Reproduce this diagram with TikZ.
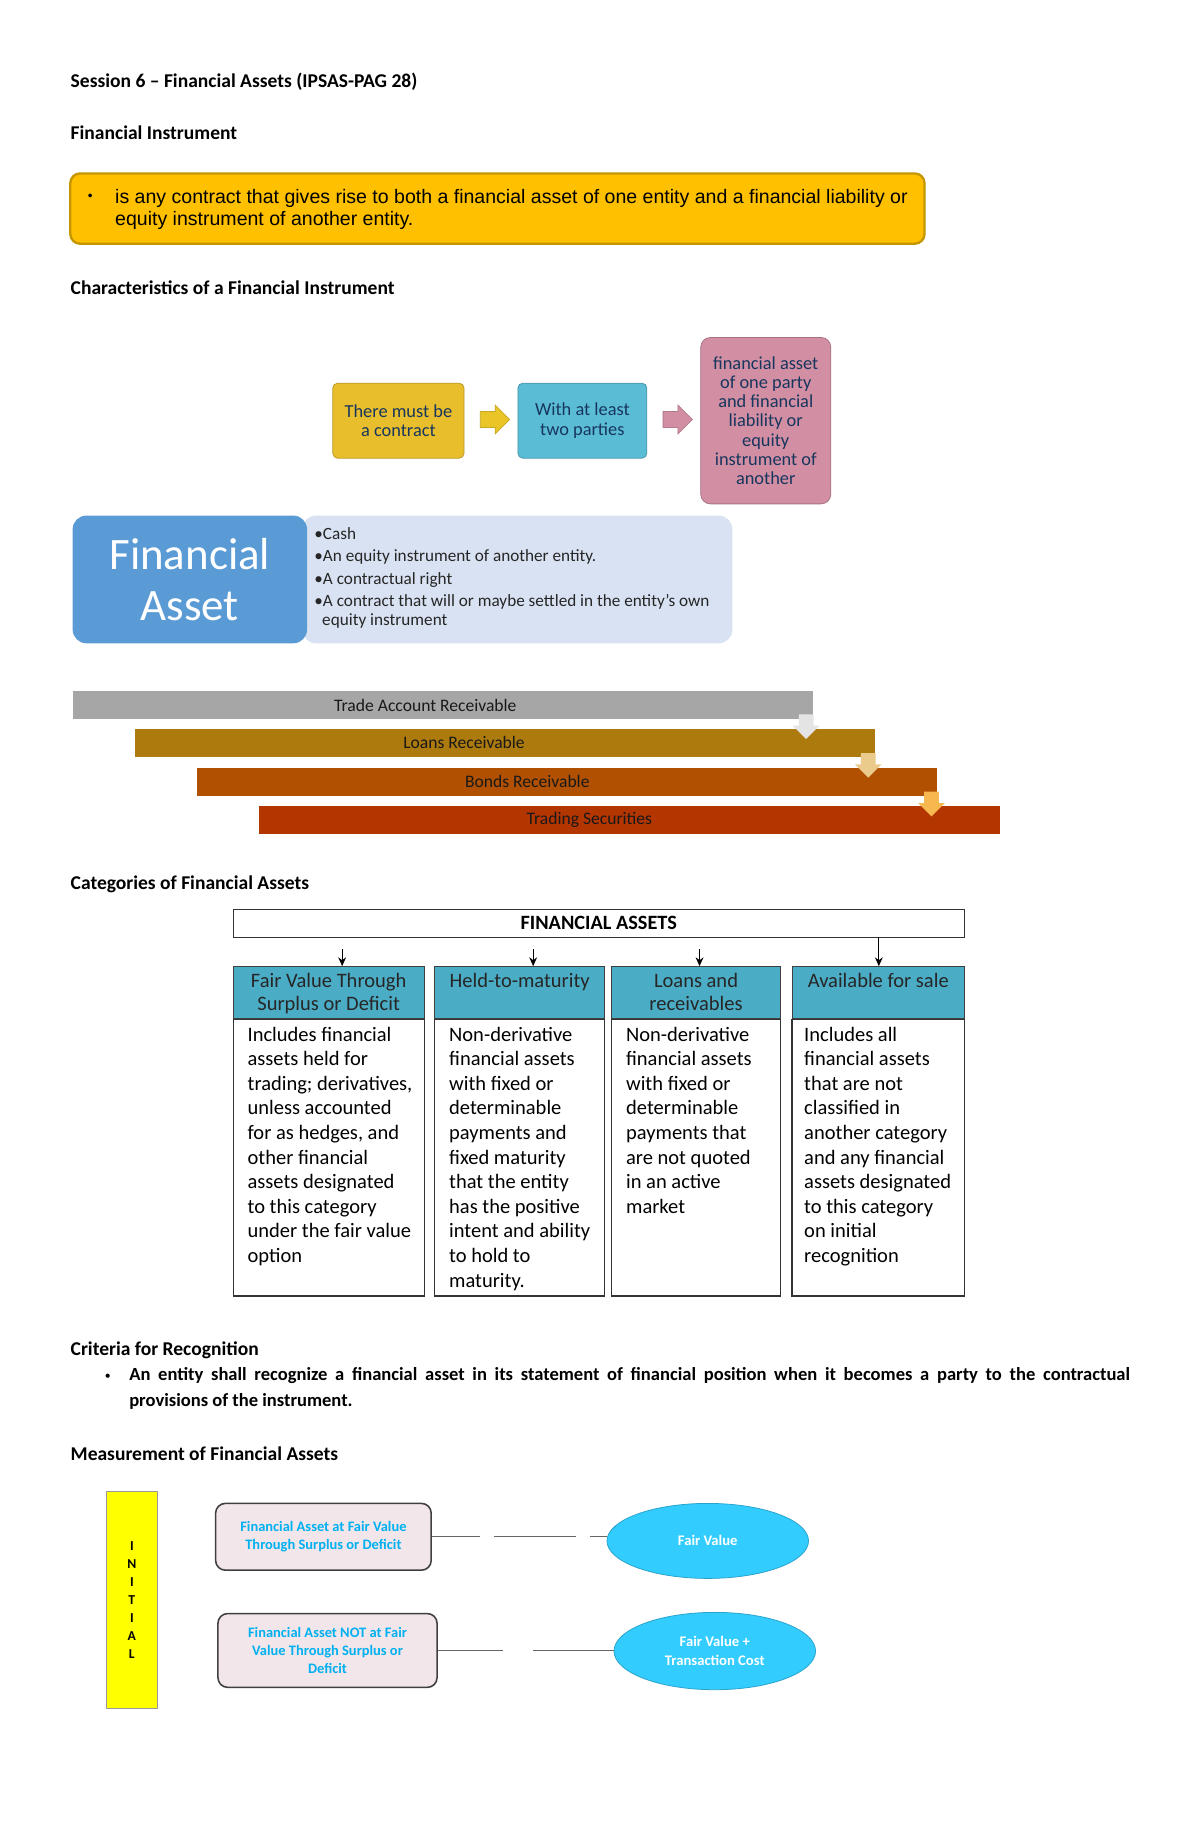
\documentclass[tikz,border=0pt]{standalone}
\usepackage{fontspec}
\setmainfont{Carlito}
\newfontfamily\arialfont{Liberation Sans}
\usetikzlibrary{positioning,shapes,shapes.arrows,arrows.meta}
\definecolor{goldbox}{RGB}{255,192,0}
\definecolor{goldline}{RGB}{196,150,0}
\definecolor{contractfill}{RGB}{232,190,44}
\definecolor{partyfill}{RGB}{91,188,214}
\definecolor{pinkfill}{RGB}{210,143,164}
\definecolor{navytext}{RGB}{23,54,93}
\definecolor{assetblue}{RGB}{91,155,213}
\definecolor{listfill}{RGB}{217,226,243}
\definecolor{bargray}{RGB}{166,166,166}
\definecolor{barloan}{RGB}{173,122,14}
\definecolor{barbond}{RGB}{176,80,0}
\definecolor{bartrade}{RGB}{179,53,0}
\definecolor{arrowgray}{RGB}{228,228,228}
\definecolor{arrowtan}{RGB}{235,203,139}
\definecolor{arroworange}{RGB}{247,184,80}
\definecolor{headteal}{RGB}{75,172,198}
\definecolor{initialyellow}{RGB}{255,255,0}
\definecolor{measurefill}{RGB}{242,230,235}
\definecolor{measuretext}{RGB}{0,176,240}
\definecolor{ovalblue}{RGB}{51,204,255}
\begin{document}
\begin{tikzpicture}[x=0.6pt, y=-0.6pt,
  heading/.style={anchor=base west, inner sep=0pt, font=\fontsize{10}{12}\selectfont\bfseries},
  flow node/.style={draw=#1!80!black, fill=#1, rounded corners=2.5pt, text=navytext, align=center, inner sep=1pt, font=\fontsize{9.4}{10.2}\selectfont},
  flow arrow/.style={single arrow, draw=#1!85!black, fill=#1, minimum height=15pt, inner xsep=0pt, inner ysep=3.9pt, single arrow head extend=3.3pt},
  bar node/.style={fill=#1, minimum width=379.2pt, minimum height=14.4pt, inner sep=0pt},
  bar label/.style={inner sep=0pt, text=black!90, font=\fontsize{9}{10}\selectfont},
  bar arrow/.style={single arrow, fill=#1, shape border rotate=270, minimum height=12.6pt, minimum width=12.6pt, inner sep=3.6pt, single arrow head extend=3pt},
  cat head/.style={draw=black!75, fill=headteal, minimum height=26.4pt, inner sep=0pt, line width=0.6pt},
  cat body/.style={draw=black!80, fill=white, minimum height=141.6pt, inner sep=0pt, line width=0.7pt},
  cat arrow/.style={-{Stealth[length=4.5pt,width=4pt]}, line width=0.6pt},
  head text/.style={anchor=north, align=center, inner sep=0pt, text=black!85, font=\fontsize{10.5}{11.4}\selectfont},
  body text/.style={anchor=north west, align=left, inner sep=0pt, font=\fontsize{10.5}{12.6}\selectfont},
  measure node/.style={draw=black!75, line width=0.8pt, fill=measurefill, rounded corners=5pt, align=center, text=measuretext, font=\fontsize{7.4}{9}\selectfont\bfseries},
  value node/.style={ellipse, draw=ovalblue!80!black, fill=ovalblue, minimum width=103.2pt, align=center, text=white, inner sep=0pt, font=\fontsize{7.5}{9.6}\selectfont\bfseries},
  link line/.style={draw=black!60, line width=0.6pt}]
\useasboundingbox (0,0) rectangle (1024,1566);
\fill[white] (0,0) rectangle (1024,1566);

% headings
\node[heading] (title) at (60,75) {Session 6 -- Financial Assets (IPSAS-PAG 28)};
\node[heading] (fihead) at (60,119) {Financial Instrument};
\node[heading] (charhead) at (60,251) {Characteristics of a Financial Instrument};
\node[heading] (cathead) at (60,759) {Categories of Financial Assets};
\node[heading] (crithead) at (60,1157) {Criteria for Recognition};
\node[heading] (meashead) at (60,1246) {Measurement of Financial Assets};

% definition
\node[draw=goldline, fill=goldbox, line width=1.2pt, rounded corners=5pt, minimum width=437.4pt, minimum height=36pt] (def) at (424.5,178) {};
\node[inner sep=0pt, font=\arialfont\fontsize{7}{8}\selectfont] (defdot) at (77,168) {\textbullet};
\node[anchor=north west, align=left, inner sep=0pt, font=\arialfont\fontsize{10}{11.4}\selectfont] (deftext) at (98,161) {is any contract that gives rise to both a financial asset of one entity and a financial liability or\\equity instrument of another entity.};

% characteristics
\node[flow node=contractfill, minimum width=67.2pt, minimum height=38.4pt] (contract) at (340,359) {There must be\\a contract};
\node[flow arrow=contractfill!90!yellow] (arr1) at (419,358) {};
\node[flow node=partyfill, minimum width=66pt, minimum height=38.4pt] (parties) at (497,359) {With at least\\two parties};
\node[flow arrow=pinkfill] (arr2) at (575,358) {};
\node[flow node=pinkfill, rounded corners=5pt, minimum width=66.6pt, minimum height=85.2pt, font=\fontsize{9.4}{9.8}\selectfont] (other) at (653.5,359) {financial asset\\of one party\\and financial\\liability or\\equity\\instrument of\\another};

% financial asset
\node[fill=listfill, rounded corners=7pt, minimum width=220.2pt, minimum height=65.4pt] (items) at (441.5,494.5) {};
\node[fill=assetblue, rounded corners=7pt, minimum width=120pt, minimum height=65.4pt, text=white, align=center, font=\fontsize{23}{26.4}\selectfont] (fa) at (162,494.5) {Financial\\Asset};
\node[anchor=north west, align=left, inner sep=0pt, text=black!85, font=\fontsize{8.8}{9.6}\selectfont] (itemtext) at (268,450) {\textbullet Cash\\[1.8pt]
\textbullet An equity instrument of another entity.\\[1.8pt]
\textbullet A contractual right\\[1.8pt]
\textbullet A contract that will or maybe settled in the entity's own\\
\hspace*{4pt}equity instrument};

% receivables
\node[bar node=bargray] (trade) at (378,602) {};
\node[bar node=barloan] (loans) at (431,634) {};
\node[bar node=barbond] (bonds) at (484,667) {};
\node[bar node=bartrade] (trading) at (537,700) {};
\node[bar label] at (363,602) {Trade Account Receivable};
\node[bar label] at (396,634) {Loans Receivable};
\node[bar label] at (450,667) {Bonds Receivable};
\node[bar label] at (503,700) {Trading Securities};
\node[bar arrow=arrowgray] (d1) at (688,617) {};
\node[bar arrow=arrowtan] (d2) at (741,650) {};
\node[bar arrow=arroworange] (d3) at (795,683) {};

% categories
\node[draw=black!80, line width=0.7pt, minimum width=374.4pt, minimum height=14.4pt, inner sep=0pt, font=\fontsize{10.4}{12}\selectfont\bfseries] (fab) at (511,788) {FINANCIAL ASSETS};
\node[cat head, minimum width=97.8pt] (fvsd) at (280.5,847) {};
\node[cat head, minimum width=87pt] (htm) at (443.5,847) {};
\node[cat head, minimum width=86.4pt] (lar) at (594,847) {};
\node[cat head, minimum width=88.2pt] (afs) at (749.5,847) {};
\node[cat body, minimum width=97.8pt, below=0pt of fvsd] (fvsdb) {};
\node[cat body, minimum width=87pt, below=0pt of htm] (htmb) {};
\node[cat body, minimum width=86.4pt, below=0pt of lar] (larb) {};
\node[cat body, minimum width=88.2pt, below=0pt of afs] (afsb) {};
\node[head text] at ([yshift=-3.6pt]fvsd.north) {Fair Value Through\\Surplus or Deficit};
\node[head text] at ([yshift=-3.6pt]htm.north) {Held-to-maturity};
\node[head text] at ([yshift=-3.6pt]lar.north) {Loans and\\receivables};
\node[head text] at ([yshift=-3.6pt]afs.north) {Available for sale};
\node[body text] at (211,876) {Includes financial\\assets held for\\trading; derivatives,\\unless accounted\\for as hedges, and\\other financial\\assets designated\\to this category\\under the fair value\\option};
\node[body text] at (383,876) {Non-derivative\\financial assets\\with fixed or\\determinable\\payments and\\fixed maturity\\that the entity\\has the positive\\intent and ability\\to hold to\\maturity.};
\node[body text] at (534,876) {Non-derivative\\financial assets\\with fixed or\\determinable\\payments that\\are not quoted\\in an active\\market};
\node[body text] at (686,876) {Includes all\\financial assets\\that are not\\classified in\\another category\\and any financial\\assets designated\\to this category\\on initial\\recognition};
\coordinate (s1) at (292,810);
\coordinate (s2) at (455,810);
\coordinate (s3) at (597,810);
\coordinate (s4) at (750,800);
\draw[cat arrow] (s1) -- (s1 |- fvsd.north);
\draw[cat arrow] (s2) -- (s2 |- htm.north);
\draw[cat arrow] (s3) -- (s3 |- lar.north);
\draw[cat arrow] (s4) -- (s4 |- afs.north);

% recognition
\node[inner sep=0pt, font=\fontsize{6}{7}\selectfont] (critdot) at (92,1175) {\textbullet};
\node[anchor=north west, text width=512.4pt, align=justify, inner sep=0pt, font=\fontsize{9.5}{13.2}\selectfont\bfseries] (crittext) at (110,1167) {An entity shall recognize a financial asset in its statement of financial position when it becomes a party to the contractual\linebreak provisions of the instrument.};

% measurement
\node[fill=initialyellow, draw=black!40, minimum width=25.8pt, minimum height=111pt, align=center, inner sep=0pt, font=\fontsize{7}{9.3}\selectfont\bfseries] (init) at (112.5,1365.5) {I\\N\\I\\T\\I\\A\\L};
\node[measure node, minimum width=110.4pt, minimum height=34.2pt] (fvtsd) at (276,1311.5) {Financial Asset at Fair Value\\Through Surplus or Deficit};
\node[measure node, minimum width=112.2pt, minimum height=37.8pt] (notfv) at (279.5,1408.5) {Financial Asset NOT at Fair\\Value Through Surplus or\\Deficit};
\node[value node, minimum height=38.4pt] (fv) at (604,1315) {Fair Value};
\node[value node, minimum height=39.6pt] (fvtc) at (610,1409) {Fair Value +\\Transaction Cost};
\draw[link line, dash pattern=on 24.6pt off 7.2pt on 42pt off 7.2pt] (fvtsd.east) -- (fvtsd.east -| fv.west);
\draw[link line, dash pattern=on 33.6pt off 15pt on 41.4pt] (notfv.east) -- (notfv.east -| fvtc.west);
\end{tikzpicture}
\end{document}
